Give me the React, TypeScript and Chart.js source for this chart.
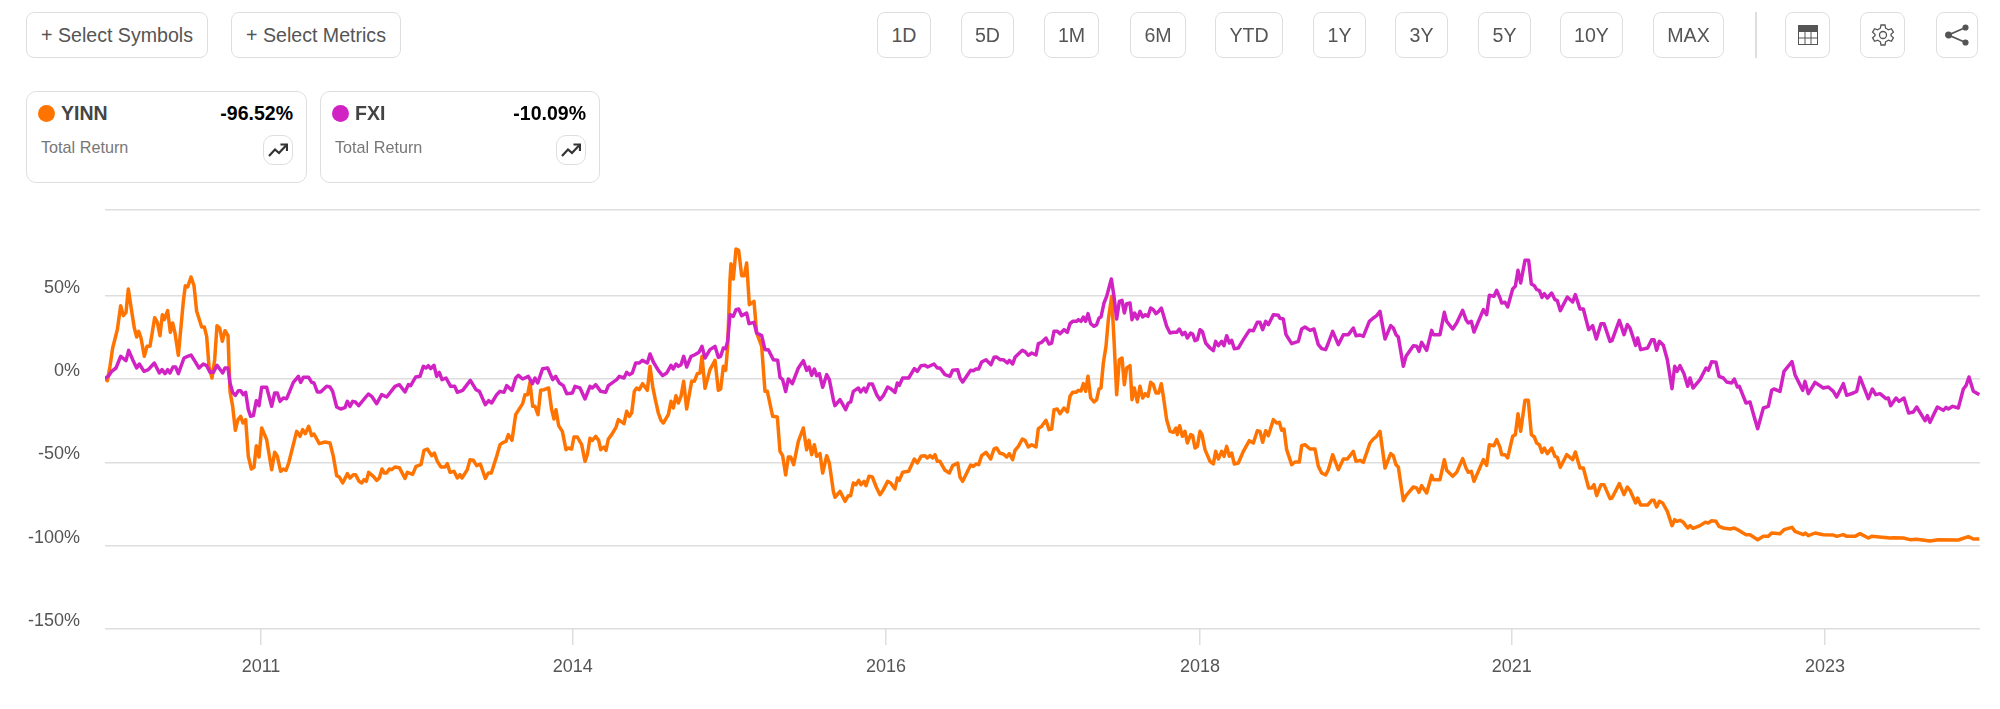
import React, { useEffect, useRef } from 'react';
import Chart from 'chart.js/auto';

// calendar days since the start of the range
const yinnDays = [
  0, 7, 15, 23, 37, 47, 55, 63, 70, 80, 88, 95, 101, 108, 118, 126, 135, 149, 157, 165, 172, 178, 188, 196, 203, 210, 220, 235, 241, 248, 258, 267, 275, 290, 298, 305, 312, 321, 329, 336, 344, 352, 360, 369, 375, 383, 391, 399, 407, 414, 422, 430, 439, 447, 454, 462, 470, 485, 500, 509, 517, 527, 535, 543, 551, 575, 585, 593, 601, 611, 620, 627, 643, 660, 675, 685, 695, 703, 713, 727, 735, 745, 752, 762, 770, 777, 784, 791, 805, 815, 823, 831, 838, 845, 853, 860, 870, 883, 900, 907, 923, 933, 948, 957, 967, 980, 988, 997, 1008, 1020, 1027, 1035, 1047, 1057, 1065, 1071, 1087, 1095, 1105, 1115, 1126, 1141, 1150, 1159, 1175,
  1185, 1195, 1203, 1210, 1221, 1232, 1240, 1253, 1260, 1268, 1275, 1283, 1290, 1299, 1307, 1317, 1331, 1340, 1347, 1353, 1361, 1372, 1383, 1390, 1400, 1407, 1417, 1430, 1440, 1447, 1455, 1462, 1472, 1481, 1487, 1497, 1503, 1510, 1520, 1533, 1540, 1557, 1565, 1573, 1580, 1588, 1595, 1603, 1613, 1627, 1635, 1643, 1651, 1660, 1668, 1675, 1690, 1698, 1705, 1713, 1720, 1728, 1736, 1745, 1760, 1768, 1777, 1785, 1791, 1800, 1815, 1830, 1840, 1847, 1855, 1862, 1868, 1875, 1878, 1885, 1893, 1901, 1910, 1918, 1925, 1933, 1947, 1955, 1970, 1980, 1987, 2003, 2017, 2025, 2033, 2042, 2050, 2057, 2066, 2080, 2095, 2105, 2112, 2120, 2128, 2135, 2145, 2153, 2165, 2173, 2185, 2190, 2205, 2220, 2230, 2237, 2245, 2253, 2261, 2268, 2277, 2283, 2292, 2302, 2315, 2325, 2335, 2348, 2357, 2370, 2377, 2383, 2393, 2411, 2428, 2437, 2448, 2460, 2467, 2475, 2483, 2490, 2497, 2505, 2520, 2533, 2543, 2558, 2565, 2573, 2597, 2605, 2613, 2621, 2630, 2643, 2657, 2667, 2675,
  2685, 2695, 2705, 2713, 2723, 2730, 2740, 2752, 2760, 2770, 2780, 2793, 2800, 2810, 2823, 2832, 2840, 2847, 2857, 2865, 2877, 2887, 2895, 2903, 2913, 2920, 2928, 2935, 2942, 2949, 2957, 2967, 2975, 2982, 2988, 2995, 3003, 3010, 3020, 3027, 3035, 3043, 3051, 3058, 3065, 3075, 3081, 3088, 3097, 3105, 3113, 3121, 3129, 3137, 3145, 3153, 3161, 3169, 3175, 3185, 3195, 3205, 3213, 3217, 3224, 3232, 3240, 3247, 3257, 3263, 3270, 3277, 3285, 3291, 3300, 3315, 3325, 3332, 3340, 3350, 3357, 3365, 3373, 3380, 3388, 3400, 3415, 3433, 3445, 3457, 3465, 3473, 3482, 3490, 3505, 3515, 3523, 3530, 3537, 3545, 3560, 3570, 3583, 3590, 3600, 3615, 3630, 3640, 3650, 3662, 3670, 3683, 3700, 3715, 3727, 3745, 3753, 3765, 3775, 3795, 3805, 3815, 3825, 3840, 3857, 3865, 3873, 3880, 3895, 3903, 3925, 3935, 3942, 3950, 3965, 3980, 3985, 4005, 4018, 4025, 4043, 4055, 4073, 4083, 4090, 4099, 4107, 4135, 4145, 4153, 4167, 4175,
  4185, 4190, 4200, 4208, 4223, 4231, 4239, 4247, 4260, 4270, 4279, 4288, 4295, 4303, 4311, 4318, 4327, 4340, 4350, 4357, 4366, 4385, 4403, 4411, 4425, 4435, 4451, 4460, 4467, 4475, 4488, 4497, 4515, 4521, 4543, 4557, 4567, 4575, 4592, 4598, 4607, 4628, 4640, 4647, 4655, 4663, 4673, 4687, 4701, 4709, 4716, 4725, 4735, 4748, 4755, 4764, 4785, 4800, 4810, 4820, 4833, 4842, 4855, 4875, 4888, 4903, 4923, 4935, 4958, 4975, 4990, 5000, 5025, 5037, 5061, 5070, 5095, 5101, 5110, 5130, 5155, 5185, 5195, 5215, 5225, 5250, 5265, 5290, 5300, 5355, 5365, 5395, 5415, 5435, 5475, 5500, 5560, 5590, 5605, 5623,
];

const yinnReturns = [
  0.4, -1, 7.6, 18.6, 29.6, 44, 38, 40, 54, 40.6, 30.6, 25.2, 28.6, 24.6, 13.6, 19.6, 19.6, 36.8, 34, 26, 38.6, 35.6, 41, 28, 33.6, 27.6, 14.2, 46.6, 56, 55.2, 61.2, 56, 40.6, 31.2, 31.2, 25.6, 7.6, 0.6, 11.6, 32, 30.6, 22.6, 29, 26, -7.4, -16.4, -30.8, -24.4, -22.4, -26.4, -24.4, -46.4, -54, -53, -40, -46.8, -29.4, -36.4, -54.4, -44, -46.4, -55.4, -54, -54.8, -50.4, -31.4, -34.4, -30.4, -32.8, -28.4, -34, -33, -38.8, -37.8, -38.4, -46.4, -58, -58.8, -62.4, -56.8, -59.4, -57.4, -57.4, -61.4, -62.4, -60.4, -61.4, -56, -58.4, -60.8, -59.4, -54, -56.4, -56.4, -54, -54.4, -52.8, -53.2, -59.6, -56, -57.2, -52.4, -51.4, -42.8, -42, -46, -44.4, -49.4, -52.8, -52.8, -50.8, -56, -55.4, -59.4, -57.4, -59.4, -54.4, -48.4, -48.8, -52, -51, -59.6, -56.4, -56.4, -46.4,
  -39.4, -38, -37.4, -33.4, -36.8, -21.4, -18.8, -14.8, -9.4, -9.4, -2, -16.4, -16.4, -21.4, -6.8, -6.4, -5.4, -18.4, -24, -18.4, -28, -31.4, -42.4, -41.4, -42, -34.8, -34.8, -39.4, -49.4, -45.4, -35.6, -36.8, -34.4, -36.8, -42.4, -40.8, -42.8, -36, -33.4, -29, -24.4, -26.8, -19.4, -22.4, -20.4, -7.4, -5.4, -6.4, -2.8, -6.8, 7.6, -4.4, -12.4, -20.4, -24.8, -26.4, -21.4, -13.4, -17.4, -10, -14.4, -10.4, -1.4, -18, -1.4, -1.4, 3.2, 3.6, 13.6, -5.6, 5.6, 11.2, -6.8, -6, 7.6, 5.2, 19.6, 59.6, 69.2, 60, 78, 77.2, 62, 62, 69.6, 44.6, 46.6, 27.6, 19.6, -7.4, -7.4, -22.4, -22.8, -43.4, -46, -57.6, -46.8, -46.8, -51.4, -37.4, -29.4, -42.4, -36.8, -45.4, -39.4, -46.4, -44.8, -56.4, -46, -50.4, -67.4, -71, -67.4, -73.4, -70, -70, -62.4, -63.4, -60.8, -63.4, -61.4, -64, -58.4, -58.8, -65.4, -69.4, -66.4, -61.4, -62.4, -66, -59.4, -60.8, -56, -55.4, -48, -50.4, -46.4, -46, -47.4, -46, -47.4, -45.4, -49.4, -49.4, -54.8, -56.4, -52, -50.4, -58.8, -61.4, -51.6, -52.4, -51, -51.4, -46, -44, -48, -42, -41.4,
  -44.6, -45, -46.8, -44.8, -48.4, -42.8, -40.4, -36, -36.8, -40.8, -39.4, -40.8, -29.8, -28.4, -24.8, -30.4, -30, -18.4, -18, -20.8, -17.4, -19.8, -10.4, -8, -8, -6.8, -7.2, -2.8, -7.4, 1.6, -11.4, -13.8, -12.4, -6, -5.4, 9.6, 19.6, 35.6, 49.6, 23.6, -9.4, 11.6, 12.6, -3.4, 6.6, 8, -12.4, -5.4, -13.8, -4.4, -11.4, -8.8, -10.4, -2, -3.4, -8.4, -8.4, -2.8, -10.4, -24.4, -31.4, -32, -29.4, -33.4, -28, -34.4, -31.4, -38.4, -33.4, -34, -41.4, -40.4, -31.4, -33.4, -42.4, -49.4, -51, -43.4, -48, -43.4, -46.4, -40.4, -46.4, -44.4, -51, -50.4, -43.4, -37, -38.4, -31, -31.4, -38, -31, -34, -24.4, -26.4, -26, -30.8, -30, -42.4, -51.4, -49.8, -49.8, -40, -39.4, -42, -42, -52.4, -56.4, -57.6, -54.4, -45.4, -54.4, -48, -48, -43.4, -49.4, -48.8, -50, -38.4, -36, -34.4, -31.4, -53.4, -44.8, -46, -51.4, -52.8, -73, -70, -64.8, -65.4, -68, -64, -68.4, -57.8, -60.4, -60.4, -48.4, -54.8, -58.4, -56, -47.8, -53.4, -56, -55.4, -61.4, -48.4, -51.8, -39.4, -40, -36.4,
  -41, -45.4, -45.4, -47.4, -34.4, -33.4, -20.8, -31.4, -12.8, -12.8, -33.4, -34.8, -38.4, -39.4, -44, -41.4, -44.8, -41.4, -46.4, -47, -53, -45.4, -48.4, -43.8, -53.4, -53.4, -65.4, -65.4, -63.4, -70, -63.4, -63.4, -71.8, -71.4, -62.8, -69.4, -64.8, -66.8, -74.4, -71.4, -75.6, -75.6, -72.8, -72.8, -76.8, -73.4, -74.4, -79.4, -88, -84.4, -85.4, -84.8, -86, -89.4, -88, -89.6, -88, -86, -86.4, -85, -85.4, -88.4, -89.4, -90, -89.4, -91, -93.4, -93.4, -96.4, -94.4, -94.4, -92.4, -92.8, -90.4, -89, -91.4, -93.4, -92.4, -94, -92.4, -93.4, -93.6, -94.4, -93.4, -94.4, -94.4, -92.8, -95.4, -94.4, -95.4, -95.2, -95.4, -96.4, -96.2, -97.2, -96.4, -96.6, -94.6, -96, -96,
];

const fxiDays = [
  0, 10, 20, 33, 47, 63, 71, 83, 95, 103, 117, 130, 148, 163, 171, 180, 188, 195, 204, 212, 220, 237, 248, 258, 270, 282, 295, 305, 315, 325, 336, 353, 360, 369, 375, 383, 391, 400, 407, 415, 422, 430, 437, 445, 454, 462, 470, 485, 500, 509, 517, 525, 535, 545, 565, 580, 587, 595, 611, 620, 627, 637, 647, 665, 675, 683, 695, 707, 720, 727, 735, 743, 751, 761, 790, 800, 815, 830, 845, 870, 883, 900, 910, 917, 932, 945, 955, 963, 970, 977, 987, 995, 1003, 1011, 1023, 1037, 1049, 1057, 1073, 1096, 1113, 1123, 1141, 1151, 1160, 1175,
  1185, 1197, 1205, 1221, 1232, 1240, 1253, 1270, 1282, 1290, 1298, 1313, 1328, 1343, 1352, 1363, 1375, 1385, 1402, 1410, 1425, 1440, 1455, 1462, 1472, 1487, 1502, 1510, 1535, 1543, 1557, 1565, 1573, 1582, 1592, 1603, 1612, 1627, 1635, 1645, 1660, 1673, 1685, 1698, 1705, 1713, 1720, 1728, 1736, 1745, 1758, 1768, 1782, 1791, 1800, 1815, 1830, 1840, 1847, 1855, 1862, 1868, 1875, 1885, 1893, 1901, 1910, 1925, 1932, 1947, 1955, 1970, 1980, 1990, 2005, 2018, 2025, 2033, 2042, 2050, 2062, 2080, 2095, 2105, 2112, 2120, 2128, 2135, 2143, 2153, 2165, 2173, 2185, 2190, 2205, 2222, 2230, 2237, 2245, 2260, 2267, 2277, 2283, 2292, 2302, 2315, 2325, 2335, 2348, 2357, 2370, 2377, 2383, 2393, 2411, 2428, 2437, 2448, 2460, 2468, 2487, 2497, 2505, 2520, 2535, 2543, 2558, 2565, 2573, 2597, 2605, 2613, 2621, 2630, 2643, 2658, 2667, 2675,
  2685, 2695, 2707, 2713, 2723, 2730, 2740, 2752, 2760, 2770, 2780, 2793, 2800, 2810, 2823, 2832, 2840, 2847, 2857, 2865, 2877, 2887, 2895, 2903, 2915, 2920, 2928, 2935, 2942, 2949, 2957, 2967, 2975, 2982, 2988, 2997, 3005, 3019, 3027, 3035, 3043, 3051, 3058, 3065, 3075, 3081, 3089, 3097, 3105, 3113, 3121, 3129, 3137, 3145, 3153, 3161, 3169, 3175, 3185, 3195, 3205, 3215, 3223, 3232, 3240, 3247, 3257, 3263, 3270, 3277, 3285, 3292, 3302, 3315, 3325, 3332, 3340, 3350, 3357, 3365, 3373, 3380, 3388, 3400, 3415, 3433, 3445, 3457, 3465, 3473, 3482, 3490, 3505, 3520, 3525, 3535, 3543, 3560, 3580, 3590, 3600, 3615, 3627, 3640, 3650, 3662, 3670, 3683, 3700, 3715, 3730, 3745, 3753, 3765, 3775, 3793, 3805, 3815, 3825, 3840, 3857, 3865, 3873, 3880, 3895, 3903, 3925, 3935, 3942, 3950, 3965, 3980, 3985, 4005, 4018, 4025, 4043, 4055, 4073, 4083, 4090, 4099, 4107, 4135, 4145, 4153, 4167, 4175,
  4185, 4190, 4200, 4208, 4223, 4231, 4239, 4247, 4260, 4271, 4279, 4288, 4295, 4303, 4311, 4318, 4327, 4340, 4350, 4357, 4366, 4387, 4403, 4411, 4425, 4435, 4451, 4463, 4474, 4488, 4497, 4515, 4521, 4543, 4557, 4567, 4575, 4592, 4598, 4607, 4628, 4640, 4647, 4655, 4663, 4675, 4687, 4701, 4709, 4716, 4725, 4737, 4748, 4755, 4764, 4785, 4803, 4810, 4820, 4833, 4842, 4855, 4865, 4880, 4888, 4897, 4903, 4923, 4935, 4947, 4958, 4975, 4990, 5000, 5007, 5025, 5037, 5061, 5070, 5093, 5100, 5110, 5130, 5155, 5170, 5185, 5195, 5215, 5225, 5245, 5255, 5265, 5290, 5302, 5312, 5325, 5343, 5350, 5357, 5373, 5382, 5397, 5411, 5425, 5435, 5460, 5467, 5475, 5497, 5515, 5523, 5530, 5543, 5560, 5575, 5583, 5592, 5605, 5623,
];

const fxiReturns = [
  0.4, 1.6, 4.6, 6.6, 13.6, 11, 17.2, 11.6, 6.6, 9, 4.6, 5.6, 9.6, 3.6, 5.6, 3.2, 5.6, 3.6, 7.2, 7.2, 3.2, 12.6, 13.6, 14.4, 10.6, 6.6, 9, 8, 4, 4, 8.2, 3.6, 6.6, 6.6, -2.4, -8, -9.8, -7, -7, -9.4, -8, -18.4, -22.4, -22, -13, -16, -5, -5, -16.4, -8.4, -8.4, -13.4, -11.4, -11.8, -2, 1.6, -2, 1, 1, -2, -2.4, -7.8, -7.8, -4.4, -4.8, -7.4, -16.8, -18, -17.2, -13.4, -16.4, -13.4, -13.8, -16, -9, -10.4, -14.8, -9.4, -10.8, -4.4, -3.4, -7.8, -3.4, -4, 1.2, 1.6, 7.6, 6.6, 8, 6.2, 8.2, 1.6, 4, -0.4, 0.6, -4.4, -4.4, -8, -6.8, -0.8, -6.4, -7.4, -15.4, -13, -14.4, -9.4,
  -7.4, -8, -4, -6.8, 0.6, 2.2, 0, 1.6, -2.8, 0.6, -2.4, 6.2, 6.6, -0.4, 1.6, -2.4, -4, -8.8, -8.4, -4.4, -5.4, -12, -4.4, -5.4, -3.4, -7.4, -8, -4, -0.4, 1.6, 0.6, 4, 2.6, 3.6, 9.6, 9.6, 11.2, 9.6, 15, 10.2, 5.2, 2, 3.6, 8.2, 6, 9, 7.6, 8.6, 13.6, 7.2, 13.6, 14.4, 16, 19.6, 12.6, 17.6, 19.6, 13, 13.6, 18.6, 18.2, 22.6, 38.6, 37.6, 41.6, 42, 38, 39.6, 33.2, 34, 27.6, 26, 17.6, 17.6, 11.6, 11.2, 1, -0.4, -7.6, 0, -2.8, 6.6, 11, 5.2, 7.2, 2.2, 6, 2, 3.2, -5, 2.6, -0.4, -12.4, -16, -12.4, -18.4, -14.4, -13.8, -7.4, -5.4, -7.8, -5.4, -7.8, -3, -3, -9.4, -12.4, -10, -4.8, -5.8, -8, -2.4, -3.8, 0.6, 0.6, 6.2, 4.6, 8, 8.2, 7.2, 9, 6.6, 6.6, 2.6, 1.6, 5.2, 5.6, 0.6, -1.8, 5.2, 5, 6, 6, 10.2, 11.6, 8.6, 13, 13.2,
  11.6, 11.6, 9.6, 11.2, 9, 13, 15, 17.2, 16.4, 14.2, 15.6, 14.4, 21.2, 22, 24.6, 21, 21.6, 28.6, 28.6, 27.2, 29.6, 28, 33.2, 34.6, 34.6, 35.6, 34.6, 37.2, 34.6, 39.2, 33.2, 31.6, 32.6, 36.6, 37.2, 45.6, 49.6, 60, 49.6, 36, 46.6, 47.2, 39.6, 45.2, 45.6, 35.6, 39.6, 36, 40.6, 37.2, 38.6, 37.6, 42.6, 41.6, 39.2, 40.6, 42.6, 38.6, 31.6, 27.6, 28, 28, 30, 26.6, 28, 24.6, 27.6, 27, 23, 23.6, 29.6, 28.6, 21.6, 18.6, 17, 22.6, 20, 22.6, 20, 26, 21.6, 23.2, 18.2, 18.6, 23.6, 29.2, 29, 34, 34, 29.6, 34.6, 32.6, 38.6, 38.2, 36.4, 36, 26.6, 21.2, 22.6, 30, 31.2, 29.2, 30, 20.6, 18.2, 17.6, 21.6, 28.6, 20.6, 26.6, 26.6, 30.6, 26, 26.4, 25.6, 34.6, 36.6, 38, 40.6, 24, 32, 30.6, 26.6, 25.2, 7.6, 13.6, 20, 19.6, 16.6, 22, 17.2, 29.2, 26.6, 26.6, 40, 34.6, 30, 33.6, 41.2, 35.6, 33.6, 34.6, 28.2, 41.6, 38.6, 50.2, 49.6, 53.2,
  48.6, 45.6, 46, 43.2, 54, 55.6, 65.2, 57.6, 71.2, 71.2, 57, 56, 53.6, 53.2, 49, 51.2, 48.6, 51.6, 47.6, 47, 41, 49.2, 46.2, 50.6, 42, 42, 29.6, 32, 24, 33.2, 33.2, 22.6, 23, 35.2, 26.6, 32.6, 30.6, 20.2, 24.6, 17.6, 18.6, 23.6, 23.6, 17.2, 22.6, 20.2, 11.6, -5.8, 7.6, 4.6, 8, 3.2, -4.4, 0.6, -5.4, -0.4, 6.6, 5.2, 10.4, 10, 1.6, 0.6, -1.8, -2.4, 0, -4.8, -4.4, -14.4, -13.8, -22.4, -29.8, -17.4, -16.4, -6.8, -6, -7.4, 4.6, 10.4, 2.6, -6.8, -1.4, -8.8, -2, -5.4, -4.8, -7.4, -10.8, -2.8, -9.8, -8.4, -7.4, 1, -11.8, -6, -9.4, -8.8, -11.8, -11.4, -16, -11.4, -13.4, -11.4, -20.4, -19.8, -16.8, -25, -22, -26, -16.8, -18.8, -17, -18, -16.4, -17.4, -6, -4, 1.2, -7.4, -9.4,
];

const xTickDays = [468, 1403, 2343, 3285, 4220, 5160];
const xTickLabels = ['2011', '2014', '2016', '2018', '2021', '2023'];
const yTickValues = [-150, -100, -50, 0, 50, 101.4];
const yTickLabels = ['-150%', '-100%', '-50%', '0%', '50%', ''];

const rangeLabels = ['1D', '5D', '1M', '6M', 'YTD', '1Y', '3Y', '5Y', '10Y', 'MAX'];
const rangeLefts = [877, 961, 1044, 1130, 1215, 1313, 1395, 1478, 1560, 1653];
const rangeWidths = [54, 53, 55, 56, 68, 53, 53, 53, 63, 71];

const FONT = '"Liberation Sans", Arial, sans-serif';
const BORDER = '1.5px solid #dedede';

const box = (left: number, top: number, width: number, height: number): React.CSSProperties => ({
  position: 'absolute',
  left,
  top,
  width,
  height,
  boxSizing: 'border-box',
  border: BORDER,
  borderRadius: 8,
  display: 'flex',
  alignItems: 'center',
  justifyContent: 'center',
  background: '#fff',
});

const TrendIcon = () => (
  <svg width="20" height="14" viewBox="0 0 20 14" fill="none" stroke="#333" strokeWidth="2.2">
    <path d="M1 13 L7 6.5 L11 10 L18 2.5" />
    <path d="M12.5 1.5 H19 V8" />
  </svg>
);

const Card = ({ left, width, color, name, value }: { left: number; width: number; color: string; name: string; value: string }) => (
  <div style={{ ...box(left, 91, width, 92), display: 'block', borderRadius: 10 }}>
    <span style={{ position: 'absolute', left: 10.5, top: 13, width: 17, height: 17, borderRadius: '50%', background: color }} />
    <span style={{ position: 'absolute', left: 34, top: 10, fontSize: 19.5, fontWeight: 700, color: '#444' }}>{name}</span>
    <span style={{ position: 'absolute', right: 13, top: 10, fontSize: 19.5, fontWeight: 700, color: '#000' }}>{value}</span>
    <span style={{ position: 'absolute', left: 14, top: 46, fontSize: 16.2, color: '#777' }}>Total Return</span>
    <span style={{ ...box(width - 45, 43, 30, 30), borderRadius: 10 }}>
      <TrendIcon />
    </span>
  </div>
);

const App: React.FC = () => {
  const canvasRef = useRef<HTMLCanvasElement | null>(null);

  useEffect(() => {
    if (!canvasRef.current) return;
    const chart = new Chart(canvasRef.current, {
      type: 'line',
      data: {
        datasets: [
          {
            label: 'YINN',
            data: yinnDays.map((x, i) => ({ x, y: yinnReturns[i] })),
            borderColor: '#ff7300',
            order: 1,
          },
          {
            label: 'FXI',
            data: fxiDays.map((x, i) => ({ x, y: fxiReturns[i] })),
            borderColor: '#d123c3',
            order: 0,
          },
        ],
      },
      options: {
        responsive: false,
        animation: false,
        layout: { padding: { top: 210, right: 20, left: 0, bottom: 0 } },
        elements: {
          point: { radius: 0 },
          line: { borderWidth: 3.5, tension: 0, borderJoinStyle: 'round' },
        },
        plugins: { legend: { display: false }, tooltip: { enabled: false } },
        scales: {
          x: {
            type: 'linear',
            min: 0,
            max: 5625,
            afterBuildTicks: (scale: any) => {
              scale.ticks = xTickDays.map((value) => ({ value }));
            },
            afterFit: (scale: any) => {
              scale.height = 80;
            },
            border: { display: false },
            grid: { drawOnChartArea: false, color: '#dedede', lineWidth: 1.5, tickLength: 16 },
            ticks: {
              color: '#555',
              padding: 11,
              maxRotation: 0,
              autoSkip: false,
              font: { family: FONT, size: 18 },
              callback: (v: any) => xTickLabels[xTickDays.indexOf(v)],
            },
          },
          y: {
            min: -150,
            max: 101.4,
            afterBuildTicks: (scale: any) => {
              scale.ticks = yTickValues.map((value) => ({ value }));
            },
            afterFit: (scale: any) => {
              scale.width = 105;
            },
            border: { display: false },
            grid: { color: '#dedede', lineWidth: 1.5, drawTicks: false },
            ticks: {
              color: '#555',
              padding: 25,
              font: { family: FONT, size: 18, lineHeight: '16px' },
              // the empty second line lifts the label above its gridline
              callback: (v: any) => {
                const label = yTickLabels[yTickValues.indexOf(v)];
                return label ? [label, ''] : '';
              },
            },
          },
        },
      },
    });

    return () => chart.destroy();
  }, []);

  return (
    <div style={{ position: 'absolute', left: 0, top: 0, width: 2000, height: 709, background: '#fff', fontFamily: FONT, color: '#555', overflow: 'hidden' }}>
      <canvas ref={canvasRef} width={2000} height={709} style={{ position: 'absolute', left: 0, top: 0, display: 'block' }} />

      <div style={{ ...box(26, 12, 182, 46), fontSize: 19.6 }}>+ Select Symbols</div>
      <div style={{ ...box(231, 12, 170, 46), fontSize: 19.6 }}>+ Select Metrics</div>

      {rangeLabels.map((label, i) => (
        <div key={label} style={{ ...box(rangeLefts[i], 12, rangeWidths[i], 46), fontSize: 19.6 }}>
          {label}
        </div>
      ))}

      <div style={{ position: 'absolute', left: 1755, top: 12, width: 1.5, height: 46, background: '#dedede' }} />

      <div style={box(1785, 12, 45, 46)}>
        <svg width="20" height="20" viewBox="0 0 20 20" fill="none" stroke="#555" strokeWidth="1">
          <rect x="0.5" y="0.5" width="19" height="19" />
          <rect x="0.5" y="0.5" width="19" height="6" fill="#555" />
          <path d="M0.5 13 H19.5 M7 7 V19.5 M13 7 V19.5" />
        </svg>
      </div>
      <div style={box(1860, 12, 45, 46)}>
        <svg width="24" height="24" viewBox="0 0 24 24" fill="none" stroke="#555" strokeWidth="1.3">
          <circle cx="12" cy="12" r="3.5" />
          <path d="M10 2 H14 L14.6 5.2 L17.4 6.8 L20.4 5.7 L22.4 9.2 L20 11.2 V12.8 L22.4 14.8 L20.4 18.3 L17.4 17.2 L14.6 18.8 L14 22 H10 L9.4 18.8 L6.6 17.2 L3.6 18.3 L1.6 14.8 L4 12.8 V11.2 L1.6 9.2 L3.6 5.7 L6.6 6.8 L9.4 5.2 Z" />
        </svg>
      </div>
      <div style={box(1936, 12, 42, 46)}>
        <svg width="24" height="22" viewBox="0 0 24 22" fill="#555" stroke="#555" strokeWidth="1.8">
          <circle cx="20.5" cy="3.5" r="2.2" />
          <circle cx="20.5" cy="18.5" r="2.2" />
          <circle cx="3.5" cy="11" r="2.6" />
          <path d="M20.5 3.5 L3.5 11 L20.5 18.5" fill="none" />
        </svg>
      </div>

      <Card left={26} width={281} color="#ff7300" name="YINN" value="-96.52%" />
      <Card left={320} width={280} color="#d123c3" name="FXI" value="-10.09%" />
    </div>
  );
};

export default App;
